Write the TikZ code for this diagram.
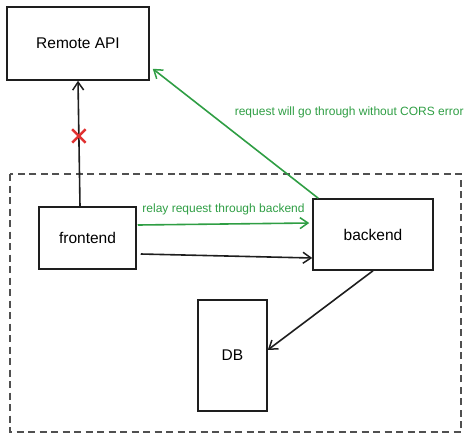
\documentclass[tikz,border=0pt]{standalone}
\usepackage{fontspec}
\setmainfont{Liberation Sans}
\usetikzlibrary{arrows.meta,shapes.misc}
\definecolor{okgreen}{HTML}{2F9E44}
\definecolor{nogored}{HTML}{E03131}
\definecolor{zonegray}{HTML}{505050}
\definecolor{ink}{HTML}{1E1E1E}

\begin{document}
\begin{tikzpicture}
[x=1pt, y=-1pt,
    box/.style={draw=ink, line width=1.5pt, fill=white, inner sep=0pt,
        font=\fontsize{15.5}{18}\selectfont},
    link/.style={draw=ink, line width=1.6pt, -{Straight Barb[length=8pt,width=11pt,line width=1.5pt]}},
    oklink/.style={link, draw=okgreen},
    oklabel/.style={text=okgreen, font=\fontsize{12}{14}\selectfont, inner sep=1pt},
    nogo/.style={cross out, draw=nogored, line width=2.4pt, minimum size=11pt, inner sep=0pt}]
\useasboundingbox (0,0) rectangle (474,440);
% server zone
\draw[zonegray, line width=1.2pt, dash pattern=on 7pt off 4.5pt] (10,174) rectangle (461,432);
% boxes
\node [box, minimum width=142pt, minimum height=73pt] (api) at (78,43.5) {Remote API};
\node [box, minimum width=97pt, minimum height=62pt] (frontend) at (87.5,238) {frontend};
\node [box, minimum width=120pt, minimum height=71pt] (backend) at (373,234.5) {backend};
\node [box, minimum width=69pt, minimum height=111pt] (db) at (232.5,355.5) {DB};
% direct call is blocked
\draw [link] ([xshift=-7.5pt]frontend.north) -- (api.south)
    node [nogo, pos=0.56] (blocked) {};
% relayed call
\draw [oklink] ([shift={(1pt,13pt)}]frontend.east) -- ([shift={(-3pt,11.5pt)}]backend.west)
    node [oklabel, midway, above=7pt] (relay) {relay request through backend};
\draw [link] ([shift={(4pt,-16pt)}]frontend.east) -- ([yshift=-23.5pt]backend.west);
\draw [oklink] ([xshift=6pt]backend.north west) -- ([xshift=3pt,yshift=12pt]api.south east)
    node [oklabel, pos=0.66, anchor=west, xshift=24pt] (nocors) {request will go through without CORS error};
\draw [link] (backend.south) -- ([yshift=5.5pt]db.east);
\end{tikzpicture}
\end{document}
